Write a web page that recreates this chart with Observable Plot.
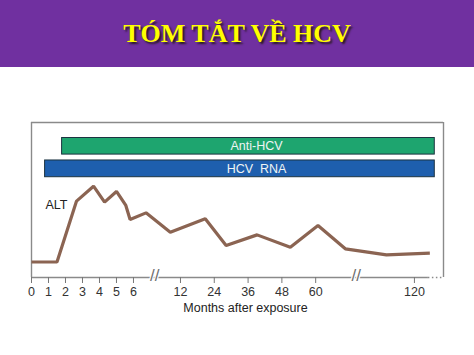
<!DOCTYPE html>
<html>
<head>
<meta charset="utf-8">
<script src="https://cdn.jsdelivr.net/npm/d3@7"></script>
<script src="https://cdn.jsdelivr.net/npm/@observablehq/plot@0.6"></script>
<style>
  html, body { margin: 0; padding: 0; background: #fff; }
  #banner {
    width: 474px; height: 67px; background: #7030a0;
    display: flex; align-items: center; justify-content: center;
  }
  #banner h1 {
    margin: 0; font-family: "Liberation Serif", "DejaVu Serif", serif;
    font-weight: bold; font-size: 26px; color: #ffff00;
    text-shadow: 2px 2px 2px #2a1a20; letter-spacing: 0;
  }
  #chart svg { display: block; }
</style>
</head>
<body>
<div id="banner"><h1>TÓM TẮT VỀ HCV</h1></div>
<div id="chart"></div>
<script>
// ALT course after exposure (arbitrary units)
const months = [0, 1.5, 2.65, 3.65, 4.3, 5.0, 5.55, 5.8, 7.6, 10.7, 20.8, 28.2, 39.2, 51, 61.4, 78, 103, 125.3];
const alt    = [10, 10, 49.3, 58.9, 48.6, 55.5, 46.5, 37.4, 41.7, 29.2, 37.9, 20.6, 27.5, 19.5, 33.5, 18.5, 14.6, 15.7];

// Serologic markers: label, first month detected, last month shown
const markers      = ["Anti-HCV", "HCV\u00a0 RNA"];
const markerStart  = [1.8, 0.8];
const markerEnd    = [127, 127];
const markerColors = ["#1ea56f", "#1e5fae"];

// Axis ticks (broken time axis)
const tickMonths = [0, 1, 2, 3, 4, 5, 6, 12, 24, 36, 48, 60, 120];
const axisBreaks = [8.85, 85.3];

const xMax = 130;

// Broken time axis: monthly spacing for the first half-year, compressed afterwards.
// Months are mapped onto a uniform axis position before going through Plot's x scale.
const warp = d3.scaleLinear()
  .domain([0, 6, 12, 60, 120, xMax])
  .range([0, 6, 8.765, 16.72, 22.53, 24.24]);

const line = months.map((m, i) => ({month: m, alt: alt[i]}));

// Bars stacked in the upper part of the frame
const rowTop = [90, 75.5], rowBottom = [79.3, 64.7];
const bars = markers.map((name, i) => ({
  name, start: markerStart[i], end: markerEnd[i], color: markerColors[i],
  y1: rowBottom[i], y2: rowTop[i]
}));
const labelMonth = 39;

const chart = Plot.plot({
  width: 474,
  height: 288,
  marginTop: 55,
  marginBottom: 78,
  marginLeft: 31,
  marginRight: 31,
  x: {domain: [0, warp(xMax)], axis: null},
  y: {domain: [0, 100], axis: null},
  style: {fontFamily: "Liberation Sans, Arial, sans-serif", background: "transparent"},
  marks: [
    // frame sides and top
    Plot.ruleX([0, xMax], {x: warp, y1: 0, y2: 100, stroke: "#8a8a8a", strokeWidth: 1.4}),
    Plot.ruleY([100], {x1: warp(0), x2: warp(xMax), stroke: "#8a8a8a", strokeWidth: 1.4}),
    // time axis line with dotted tail
    Plot.ruleY([0], {x1: warp(0), x2: warp(124.8), stroke: "#8a8a8a", strokeWidth: 1.4}),
    Plot.ruleY([0], {x1: warp(124.8), x2: warp(xMax), stroke: "#8a8a8a", strokeWidth: 1.4, strokeDasharray: "1.5,2.5"}),
    Plot.axisX(tickMonths.map(warp), {
      tickSize: 6, tickPadding: 4, fontSize: 12.5, stroke: "#777",
      fill: "#333", label: null, tickFormat: (d, i) => String(tickMonths[i])
    }),
    // axis break marks
    Plot.text(axisBreaks, {
      x: warp, y: 0, text: () => "//", fontSize: 17, fill: "#6f6f6f",
      stroke: "white", strokeWidth: 2.5, paintOrder: "stroke", dy: -2, dx: -1
    }),
    Plot.text(["Months after exposure"], {
      frameAnchor: "bottom", dx: 8, dy: 34, fontSize: 12.5, fill: "#222"
    }),
    // marker bars
    Plot.rect(bars, {
      x1: d => warp(d.start), x2: d => warp(d.end), y1: "y1", y2: "y2",
      fill: "color", stroke: "#1d3340", strokeWidth: 1
    }),
    Plot.text(bars, {
      x: () => warp(labelMonth), y: d => (d.y1 + d.y2) / 2, text: "name",
      fill: "#eef4f4", fontSize: 12.5
    }),
    // ALT curve
    Plot.line(line, {
      x: d => warp(d.month), y: "alt", stroke: "#8b6452", strokeWidth: 3.2,
      strokeLinejoin: "miter", strokeLinecap: "butt"
    }),
    Plot.text(["ALT"], {
      x: () => warp(0.82), y: () => 46.5, text: d => d, textAnchor: "start",
      fontSize: 12.5, fill: "#222"
    })
  ]
});
document.getElementById("chart").appendChild(chart);
</script>
</body>
</html>
